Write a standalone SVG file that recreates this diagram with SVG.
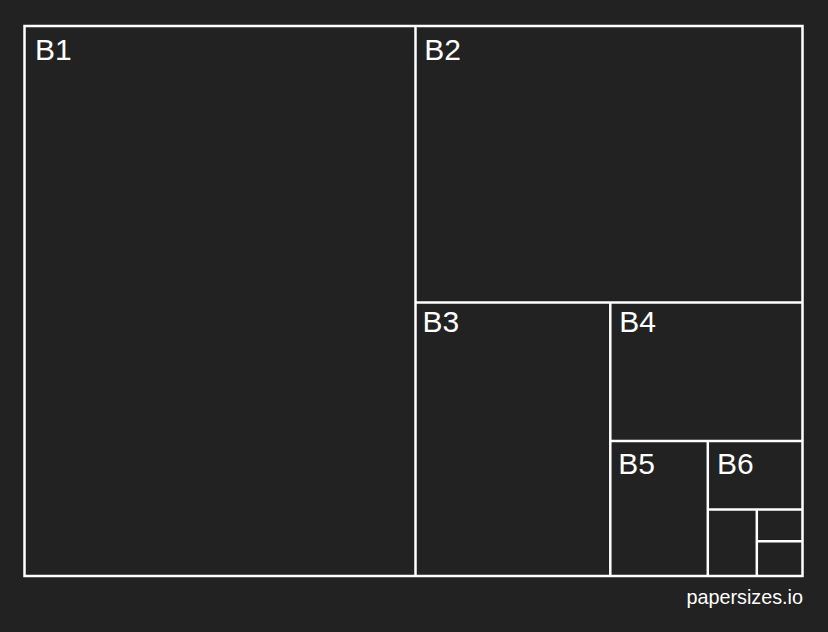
<svg xmlns="http://www.w3.org/2000/svg" width="828" height="632" viewBox="0 0 828 632">
<style>
.l{fill:none;stroke:#ffffff;stroke-width:2.5}
.t{font-family:"Liberation Sans",Arial,sans-serif;font-size:30px;fill:#ffffff}
.f{font-family:"Liberation Sans",Arial,sans-serif;font-size:19.8px;fill:#ffffff;text-anchor:end}
</style>
<rect width="828" height="632" fill="#222222"/>
<g id="B1"><rect class="l" x="24.5" y="26" width="778" height="550"/><text class="t" x="35" y="60">B1</text></g>
<g id="B2"><line class="l" x1="415.5" y1="26" x2="415.5" y2="576"/><text class="t" x="424.3" y="60">B2</text></g>
<g id="B3"><line class="l" x1="415.5" y1="302.5" x2="802.5" y2="302.5"/><text class="t" x="422.6" y="332.3">B3</text></g>
<g id="B4"><line class="l" x1="610.3" y1="302.5" x2="610.3" y2="576"/><text class="t" x="619.3" y="332.3">B4</text></g>
<g id="B5"><line class="l" x1="610.3" y1="441" x2="802.5" y2="441"/><text class="t" x="618.3" y="474">B5</text></g>
<g id="B6"><line class="l" x1="707.8" y1="441" x2="707.8" y2="576"/><text class="t" x="717" y="474">B6</text></g>
<g id="B7"><line class="l" x1="707.8" y1="509.5" x2="802.5" y2="509.5"/></g>
<g id="B8"><line class="l" x1="756.8" y1="509.5" x2="756.8" y2="576"/></g>
<g id="B9"><line class="l" x1="756.8" y1="541.2" x2="802.5" y2="541.2"/></g>
<text class="f" x="803" y="604">papersizes.io</text>
</svg>
